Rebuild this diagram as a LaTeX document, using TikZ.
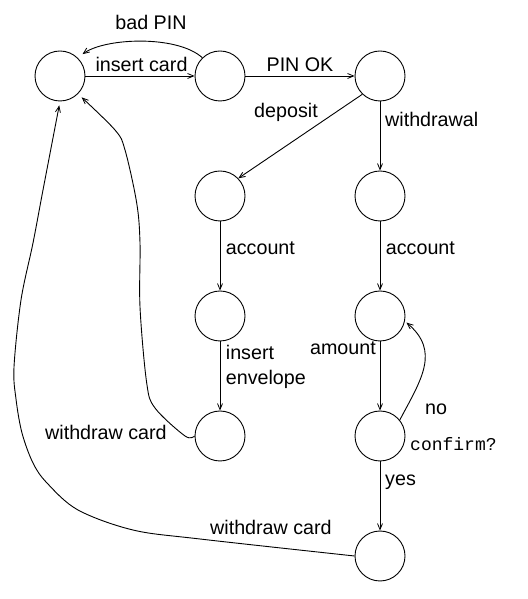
\documentclass[tikz,border=0pt]{standalone}
\usepackage{fontspec}
\setmainfont{Liberation Sans}
\newfontfamily\cfmono{Liberation Mono}
\usetikzlibrary{arrows.meta}
\begin{document}
\begin{tikzpicture}[x=1pt,y=1pt,
  state/.style={circle,draw,line width=0.9pt,minimum size=50pt,inner sep=0pt},
  lbl/.style={inner sep=0pt,font=\fontsize{19.7}{24}\selectfont},
  mono/.style={inner sep=0pt,font=\cfmono\fontsize{18}{22}\selectfont},
  arr/.style={line width=0.9pt,-{Straight Barb[length=6pt,width=5pt,line width=0.8pt]}}]
\useasboundingbox (0,0) rectangle (527,599);
% states
\node[state] (A) at (60,523) {};
\node[state] (B) at (220,523) {};
\node[state] (C) at (380,523) {};
\node[state] (D) at (220,403) {};
\node[state] (E) at (380,403) {};
\node[state] (F) at (220,283) {};
\node[state] (G) at (380,283) {};
\node[state] (H) at (220,163) {};
\node[state] (I) at (380,163) {};
\node[state] (J) at (380,43) {};
% straight transitions
\draw[arr] (A.east) -- (B.west);
\draw[arr] (B.east) -- (C.west);
\draw[arr] (C.226) -- (D.44);
\draw[arr] (C.south) -- (E.north);
\draw[arr] (D.south) -- (F.north);
\draw[arr] (F.south) -- (H.north);
\draw[arr] (E.south) -- (G.north);
\draw[arr] (G.south) -- (I.north);
\draw[arr] (I.south) -- (J.north);
% curved transitions
\draw[arr,shorten >=6pt] (B.134) to[out=138,in=36,looseness=0.7] (A.46);
\draw[arr,shorten >=2pt] (I.39) to[out=62,in=-40,looseness=1.2] (G.-12);
\draw[arr,shorten >=5pt] plot[smooth,tension=0.55] coordinates
  {(H.west) (185,163) (155,191) (146.7,216) (140,292) (140,356) (136.7,396) (125,449) (115,469) (A.-45)};
\draw[arr,shorten >=4pt] plot[smooth,tension=0.55] coordinates
  {(J.west) (200,60) (133,69) (78,89) (47,116) (33,136) (22,166) (16,200) (14,232) (21,299) (33,356) (43,409) (A.south)};
% labels
\node[lbl,anchor=base] (lbadpin) at (151,569) {bad PIN};
\node[lbl,anchor=base] (linsert) at (141.5,527) {insert card};
\node[lbl,anchor=base] (lpinok) at (300,527) {PIN OK};
\node[lbl,anchor=base] (ldeposit) at (286,481) {deposit};
\node[lbl,anchor=base west] (lwithdrawal) at (385,472.3) {withdrawal};
\node[lbl,anchor=base west] (lacc1) at (225.7,344) {account};
\node[lbl,anchor=base west] (lacc2) at (385.7,344) {account};
\node[lbl,anchor=base west] (lins) at (225.7,239) {insert};
\node[lbl,anchor=base west] (lenv) at (225.7,214) {envelope};
\node[lbl,anchor=base east] (lamount) at (376,244) {amount};
\node[lbl,anchor=base west] (lno) at (425,184) {no};
\node[mono,anchor=base west] (lconfirm) at (410,148) {confirm?};
\node[lbl,anchor=base west] (lyes) at (385,113.3) {yes};
\node[lbl,anchor=base west] (lwc1) at (45,159) {withdraw card};
\node[lbl,anchor=base west] (lwc2) at (210,64) {withdraw card};
\end{tikzpicture}
\end{document}
